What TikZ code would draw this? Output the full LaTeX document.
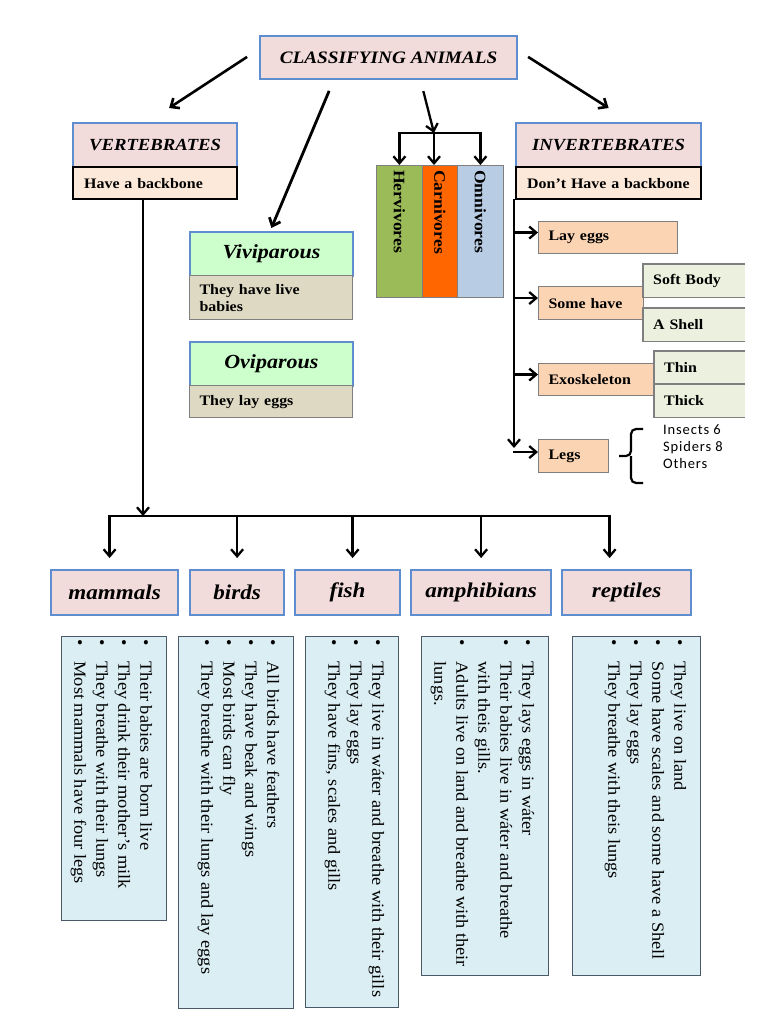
\documentclass[tikz,border=0pt]{standalone}
\usepackage{fontspec}
\setmainfont{Liberation Serif}
\newfontfamily\headfont{Liberation Serif}[FakeStretch=1.1]
\newfontfamily\descfont{Liberation Serif}[FakeStretch=1.08]
\newfontfamily\notefont{Carlito}[LetterSpace=6]
\usepackage{tikz}
\usetikzlibrary{arrows.meta}

\definecolor{titlepink}{HTML}{F2DCDB}
\definecolor{frameblue}{HTML}{5F8ED0}
\definecolor{subpeach}{HTML}{FDE9D9}
\definecolor{vivigreen}{HTML}{CCFFCC}
\definecolor{vivitan}{HTML}{DDD9C3}
\definecolor{herbgreen}{HTML}{9BBB59}
\definecolor{carnorange}{HTML}{FF6600}
\definecolor{omniblue}{HTML}{B8CCE4}
\definecolor{invpeach}{HTML}{FBD4B4}
\definecolor{invgreen}{HTML}{EBF1DE}
\definecolor{descblue}{HTML}{DBEEF3}
\definecolor{descline}{HTML}{4A5868}
\definecolor{greyline}{HTML}{7F7F7F}

\newcommand{\headbi}[1]{\headfont\bfseries\itshape\fontsize{#1}{#1}\selectfont}
\newcommand{\headb}[1]{\headfont\bfseries\fontsize{#1}{17}\selectfont}

\begin{document}
\begin{tikzpicture}[x=1pt,y=-1pt]
		\tikzset{arr/.style={line width=2.3pt,line cap=rect,-{Straight Barb[length=7pt,width=12pt]}}}
		\tikzset{barline/.style={line width=2.3pt,line cap=rect}}
		\tikzset{pinkbox/.style={draw=frameblue,line width=2.2pt,fill=titlepink,anchor=north west,inner sep=0pt}}
		\tikzset{peachsub/.style={draw=black,line width=2.4pt,fill=subpeach,anchor=north west,inner xsep=11pt,inner ysep=0pt,align=left,font=\headb{14.5}}}
		\tikzset{greenbox/.style={draw=frameblue,line width=1.8pt,fill=vivigreen,anchor=north west,inner sep=0pt,font=\headbi{20}}}
		\tikzset{tansub/.style={draw=greyline,line width=1.2pt,fill=vivitan,anchor=north west,inner xsep=10pt,inner ysep=0pt,align=left,font=\headb{14.5}}}
		\tikzset{column/.style={draw=greyline,line width=0.8pt,anchor=north west,inner sep=0pt,minimum height=132pt}}
		\tikzset{coltext/.style={rotate=-90,anchor=west,inner sep=0pt,font=\headb{16}}}
		\tikzset{invbox/.style={draw=greyline,line width=1.1pt,fill=invpeach,anchor=north west,inner xsep=10pt,inner ysep=0pt,align=left,font=\headb{14.5}}}
		\tikzset{sidebox/.style={fill=invgreen,anchor=north west,inner xsep=10pt,inner ysep=0pt,align=left,font=\headb{14.5},minimum width=102pt,minimum height=33pt}}
		\tikzset{sideframe/.style={draw=greyline,line width=1.1pt}}
		\tikzset{catbox/.style={pinkbox,minimum height=45pt,font=\headbi{21}}}
		\tikzset{descbox/.style={draw=descline,line width=1pt,fill=descblue,anchor=north west}}
		\tikzset{desctext/.style={rotate=-90,anchor=north west,inner sep=0pt,font=\descfont\fontsize{17}{22}\selectfont}}
		\fill[white] (0,0) rectangle (768,1024);
		\useasboundingbox (0,0) rectangle (768,1024);
		% top of the map
		\node[pinkbox,minimum width=257pt,minimum height=43pt,font=\headbi{17.5}] (title) at (259,35) {CLASSIFYING ANIMALS};
		\node[pinkbox,minimum width=164pt,minimum height=44pt,font=\headbi{17}] (vert) at (72,122) {VERTEBRATES};
		\node[peachsub,text width=142pt,minimum height=32pt] (vertsub) at (72,166) {Have a backbone};
		\node[pinkbox,minimum width=185pt,minimum height=44pt,font=\headbi{17}] (invert) at (515,122) {INVERTEBRATES};
		\node[peachsub,text width=163pt,minimum height=32pt] (invertsub) at (515,166) {Don’t Have a backbone};
		% diet columns
		\node[column,fill=herbgreen,minimum width=46pt] (herb) at (376,165) {};
		\node[column,fill=carnorange,minimum width=35pt] (carn) at (422,165) {};
		\node[column,fill=omniblue,minimum width=46pt] (omni) at (457,165) {};
		\node[coltext] (herbtext) at ([yshift=-5pt]herb.north) {Hervivores};
		\node[coltext] (carntext) at ([yshift=-5pt]carn.north) {Carnivores};
		\node[coltext] (omnitext) at ([yshift=-5pt]omni.north) {Omnivores};
		% birth
		\node[greenbox,minimum width=163pt,minimum height=44pt] (vivi) at (189,231) {Viviparous};
		\node[tansub,text width=143pt,minimum height=44pt] (vivisub) at (189,275) {They have live\\babies};
		\node[greenbox,minimum width=163pt,minimum height=44pt] (ovi) at (189,341) {Oviparous};
		\node[tansub,text width=143pt,minimum height=32pt] (ovisub) at (189,385) {They lay eggs};
		% invertebrates
		\node[invbox,text width=119pt,minimum height=32pt] (layeggs) at (538,221) {Lay eggs};
		\node[invbox,text width=85pt,minimum height=33pt] (somehave) at (538,286) {Some have};
		\node[sidebox,text width=82pt] (softbody) at (643,264) {Soft Body};
		\node[sidebox,text width=82pt] (ashell) at (643,308) {A Shell};
		\node[invbox,text width=96pt,minimum height=32pt] (exo) at (538,363) {Exoskeleton};
		\node[sidebox,text width=71pt,minimum width=91pt] (thin) at (654,351) {Thin};
		\node[sidebox,text width=71pt,minimum width=91pt] (thick) at (654,384) {Thick};
		\node[invbox,text width=50pt,minimum height=33pt] (legs) at (538,439) {Legs};
		\foreach \n in {softbody,ashell,thin,thick}
			\draw[sideframe] (\n.north east) -- (\n.north west) -- (\n.south west) -- (\n.south east);
		\node[anchor=north west,inner sep=0pt,align=left,font=\notefont\fontsize{14.5}{17}\selectfont] (legsnote) at (663,425) {Insects 6\\Spiders 8\\Others};
		\draw[line width=2.2pt,rounded corners=5pt] (643,429) -- (631,429) -- (631,456) -- (619,456)
			(631,456) -- (631,483) -- (643,483);
		% groups of vertebrates
		\node[catbox,minimum width=127pt] (mammals) at (50,569) {mammals};
		\node[catbox,minimum width=94pt] (birds) at (189,569) {birds};
		\node[catbox,minimum width=105pt] (fish) at (294,569) {fish};
		\node[catbox,minimum width=140pt] (amphib) at (410,569) {amphibians};
		\node[catbox,minimum width=129pt] (reptiles) at (561,569) {reptiles};
		\node[descbox,minimum width=105pt,minimum height=284pt] (mamdesc) at (61,636) {};
		\node[descbox,minimum width=115pt,minimum height=372pt] (birddesc) at (178,636) {};
		\node[descbox,minimum width=93pt,minimum height=371pt] (fishdesc) at (305,636) {};
		\node[descbox,minimum width=127pt,minimum height=339pt] (amphdesc) at (421,636) {};
		\node[descbox,minimum width=128pt,minimum height=339pt] (reptdesc) at (572,636) {};
		\node[desctext] (mamtext) at ([xshift=-11pt,yshift=-3pt]mamdesc.north east) {\begin{tabular}{@{}l@{\hspace{16pt}}l@{}}
			\textbullet & Their babies are born live\\
			\textbullet & They drink their mother’s milk\\
			\textbullet & They breathe with their lungs\\
			\textbullet & Most mammals have four legs
		\end{tabular}};
		\node[desctext] (birdtext) at ([xshift=-11pt,yshift=-3pt]birddesc.north east) {\begin{tabular}{@{}l@{\hspace{16pt}}l@{}}
			\textbullet & All birds have feathers\\
			\textbullet & They have beak and wings\\
			\textbullet & Most birds can fly\\
			\textbullet & They breathe with their lungs and lay eggs
		\end{tabular}};
		\node[desctext] (fishtext) at ([xshift=-11pt,yshift=-3pt]fishdesc.north east) {\begin{tabular}{@{}l@{\hspace{16pt}}l@{}}
			\textbullet & They live in wáter and breathe with their gills\\
			\textbullet & They lay eggs\\
			\textbullet & They have fins, scales and gills
		\end{tabular}};
		\node[desctext] (amphtext) at ([xshift=-11pt,yshift=-3pt]amphdesc.north east) {\begin{tabular}{@{}l@{\hspace{16pt}}l@{}}
			\textbullet & They lays eggs in wáter\\
			\textbullet & Their babies live in wáter and breathe\\
			 & with theis gills.\\
			\textbullet & Adults live on land and breathe with their\\
			 & lungs.
		\end{tabular}};
		\node[desctext] (repttext) at ([xshift=-11pt,yshift=-3pt]reptdesc.north east) {\begin{tabular}{@{}l@{\hspace{16pt}}l@{}}
			\textbullet & They live on land\\
			\textbullet & Some have scales and some have a Shell\\
			\textbullet & They lay eggs\\
			\textbullet & They breathe with theis lungs
		\end{tabular}};
		% arrows from the title
		\draw[arr,line width=2.6pt] ([xshift=-13pt]title.west) -- ([xshift=14pt,yshift=14pt]vert.north);
		\draw[arr,line width=2.6pt] ([xshift=11pt]title.east) -- ([yshift=14pt]invert.north);
		\draw[arr,line width=2.8pt] ([xshift=-60pt,yshift=-12pt]title.south) -- ([yshift=3pt]vivi.north);
		\coordinate (hfork) at (434,133);
		\draw[arr] ([xshift=35pt,yshift=-12pt]title.south) -- (hfork);
		\draw[barline] (herb.north |- hfork) -- (omni.north |- hfork);
		\draw[arr] (herb.north |- hfork) -- (herb.north);
		\draw[arr] (hfork) -- (hfork |- carn.north);
		\draw[arr] (omni.north |- hfork) -- (omni.north);
		% vertebrate fork
		\coordinate (vfork) at (143,516);
		\draw[arr] (vertsub.south -| vfork) -- (vfork);
		\draw[barline] ([xshift=-5pt]mammals.north |- vfork) -- ([xshift=-17pt]reptiles.north |- vfork);
		\draw[arr] ([xshift=-5pt]mammals.north |- vfork) -- ([xshift=-5pt,yshift=11pt]mammals.north);
		\draw[arr] (birds.north |- vfork) -- ([yshift=11pt]birds.north);
		\draw[arr] ([xshift=5pt]fish.north |- vfork) -- ([xshift=5pt,yshift=11pt]fish.north);
		\draw[arr] (amphib.north |- vfork) -- ([yshift=11pt]amphib.north);
		\draw[arr] ([xshift=-17pt]reptiles.north |- vfork) -- ([xshift=-17pt,yshift=11pt]reptiles.north);
		% invertebrate trunk
		\coordinate (itrunk) at (514,448);
		\draw[arr] (invertsub.south -| itrunk) -- (itrunk);
		\draw[arr] ([yshift=5pt]layeggs.west -| itrunk) -- ([yshift=5pt]layeggs.west);
		\draw[arr] ([yshift=5pt]somehave.west -| itrunk) -- ([yshift=5pt]somehave.west);
		\draw[arr] ([yshift=5pt]exo.west -| itrunk) -- ([yshift=5pt]exo.west);
		\draw[arr] ([yshift=4pt]legs.west -| itrunk) -- ([yshift=4pt]legs.west);
\end{tikzpicture}
\end{document}
